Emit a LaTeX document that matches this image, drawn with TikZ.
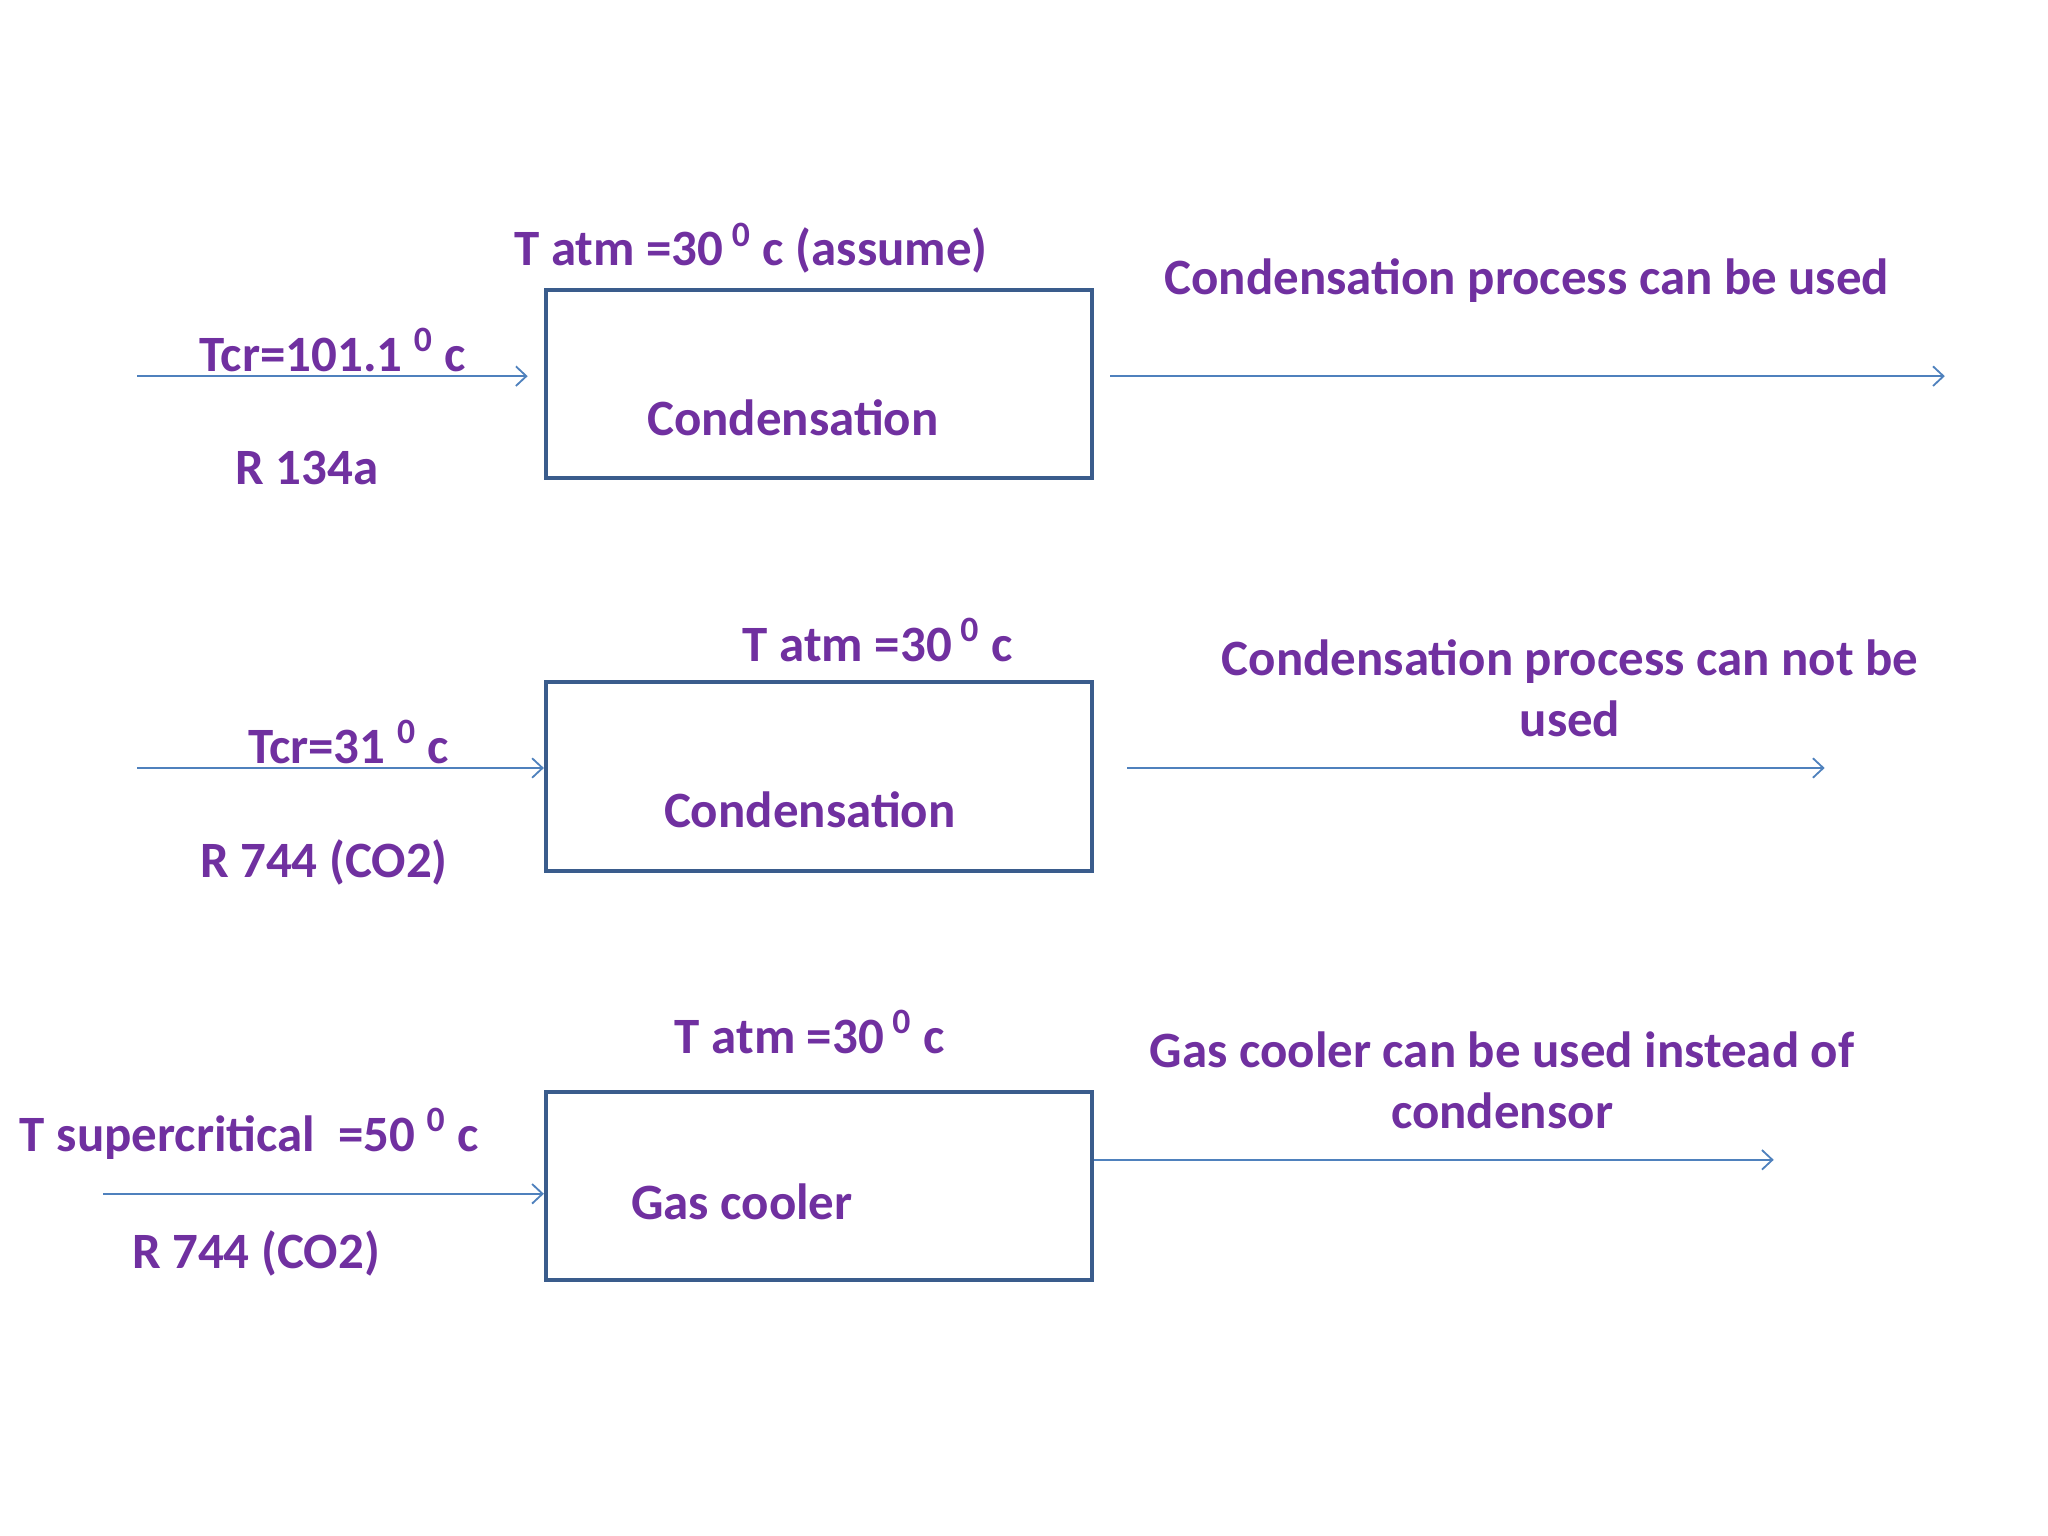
\documentclass[tikz,border=0pt]{standalone}
\usepackage{fontspec}
\setmainfont{Carlito}
\usetikzlibrary{arrows.meta}
\begin{document}
\begin{tikzpicture}[x=0.5pt,y=-0.5pt,
  lbl/.style={text=txt,font=\bfseries\fontsize{19.5}{23.5}\selectfont,inner sep=0pt,align=center},
  box/.style={draw=boxc,line width=1.6pt,inner sep=0pt},
  arr/.style={draw=arrc,line width=0.7pt,-{Straight Barb[length=4pt,width=7.5pt]}}]
\definecolor{txt}{HTML}{7030A0}
\definecolor{boxc}{HTML}{3A5C8C}
\definecolor{arrc}{HTML}{4F81BD}
\useasboundingbox (0,0) rectangle (1568,1176);
% boxes
\node[box,minimum width=209pt,minimum height=72pt] (b1) at (627,294) {};
\node[box,minimum width=209pt,minimum height=72.5pt] (b2) at (627,594.5) {};
\node[box,minimum width=209pt,minimum height=72pt] (b3) at (627,908) {};
% coordinates
\coordinate (s1) at (105,288); \coordinate (e1a) at (404,288);
\coordinate (o1) at (850,288); \coordinate (f1) at (1489,288);
\coordinate (s2) at (105,588);
\coordinate (o2) at (863,588); \coordinate (f2) at (1397,588);
\coordinate (s3) at (79,914);
\coordinate (f3) at (1358,888);
\draw[arr] (s1) -- (e1a);
\draw[arr] (o1) -- (f1);
\draw[arr] (s2) -- (s2 -| b2.west);
\draw[arr] (o2) -- (f2);
\draw[arr] (s3) -- (s3 -| b3.west);
\draw[arr] (f3 -| b3.east) -- (f3);
% row 1
\node[lbl] (t1) at (575,190) {T atm =30\,\textsuperscript{0} c (assume)};
\node[lbl] (c1) at (255,268) {Tcr=101.1 \textsuperscript{0} c};
\node[lbl] (r1) at (235,358) {R 134a};
\node[lbl] (n1) at (607,320) {Condensation};
\node[lbl] (p1) at (1169,215) {Condensation process can be used};
% row 2
\node[lbl] (t2) at (672,490) {T atm =30\,\textsuperscript{0} c};
\node[lbl] (c2) at (267,568) {Tcr=31 \textsuperscript{0} c};
\node[lbl] (r2) at (248,660) {R 744 (CO2)};
\node[lbl] (n2) at (620,620) {Condensation};
\node[lbl] (p2) at (1202,527) {Condensation process can not be\\used};
% row 3
\node[lbl] (t3) at (620,790) {T atm =30\,\textsuperscript{0} c};
\node[lbl] (c3) at (191,868) {T supercritical\ \ =50 \textsuperscript{0} c};
\node[lbl] (r3) at (196,960) {R 744 (CO2)};
\node[lbl] (n3) at (568,920) {Gas cooler};
\node[lbl] (p3) at (1150,827) {Gas cooler can be used instead of\\condensor};
\end{tikzpicture}
\end{document}
